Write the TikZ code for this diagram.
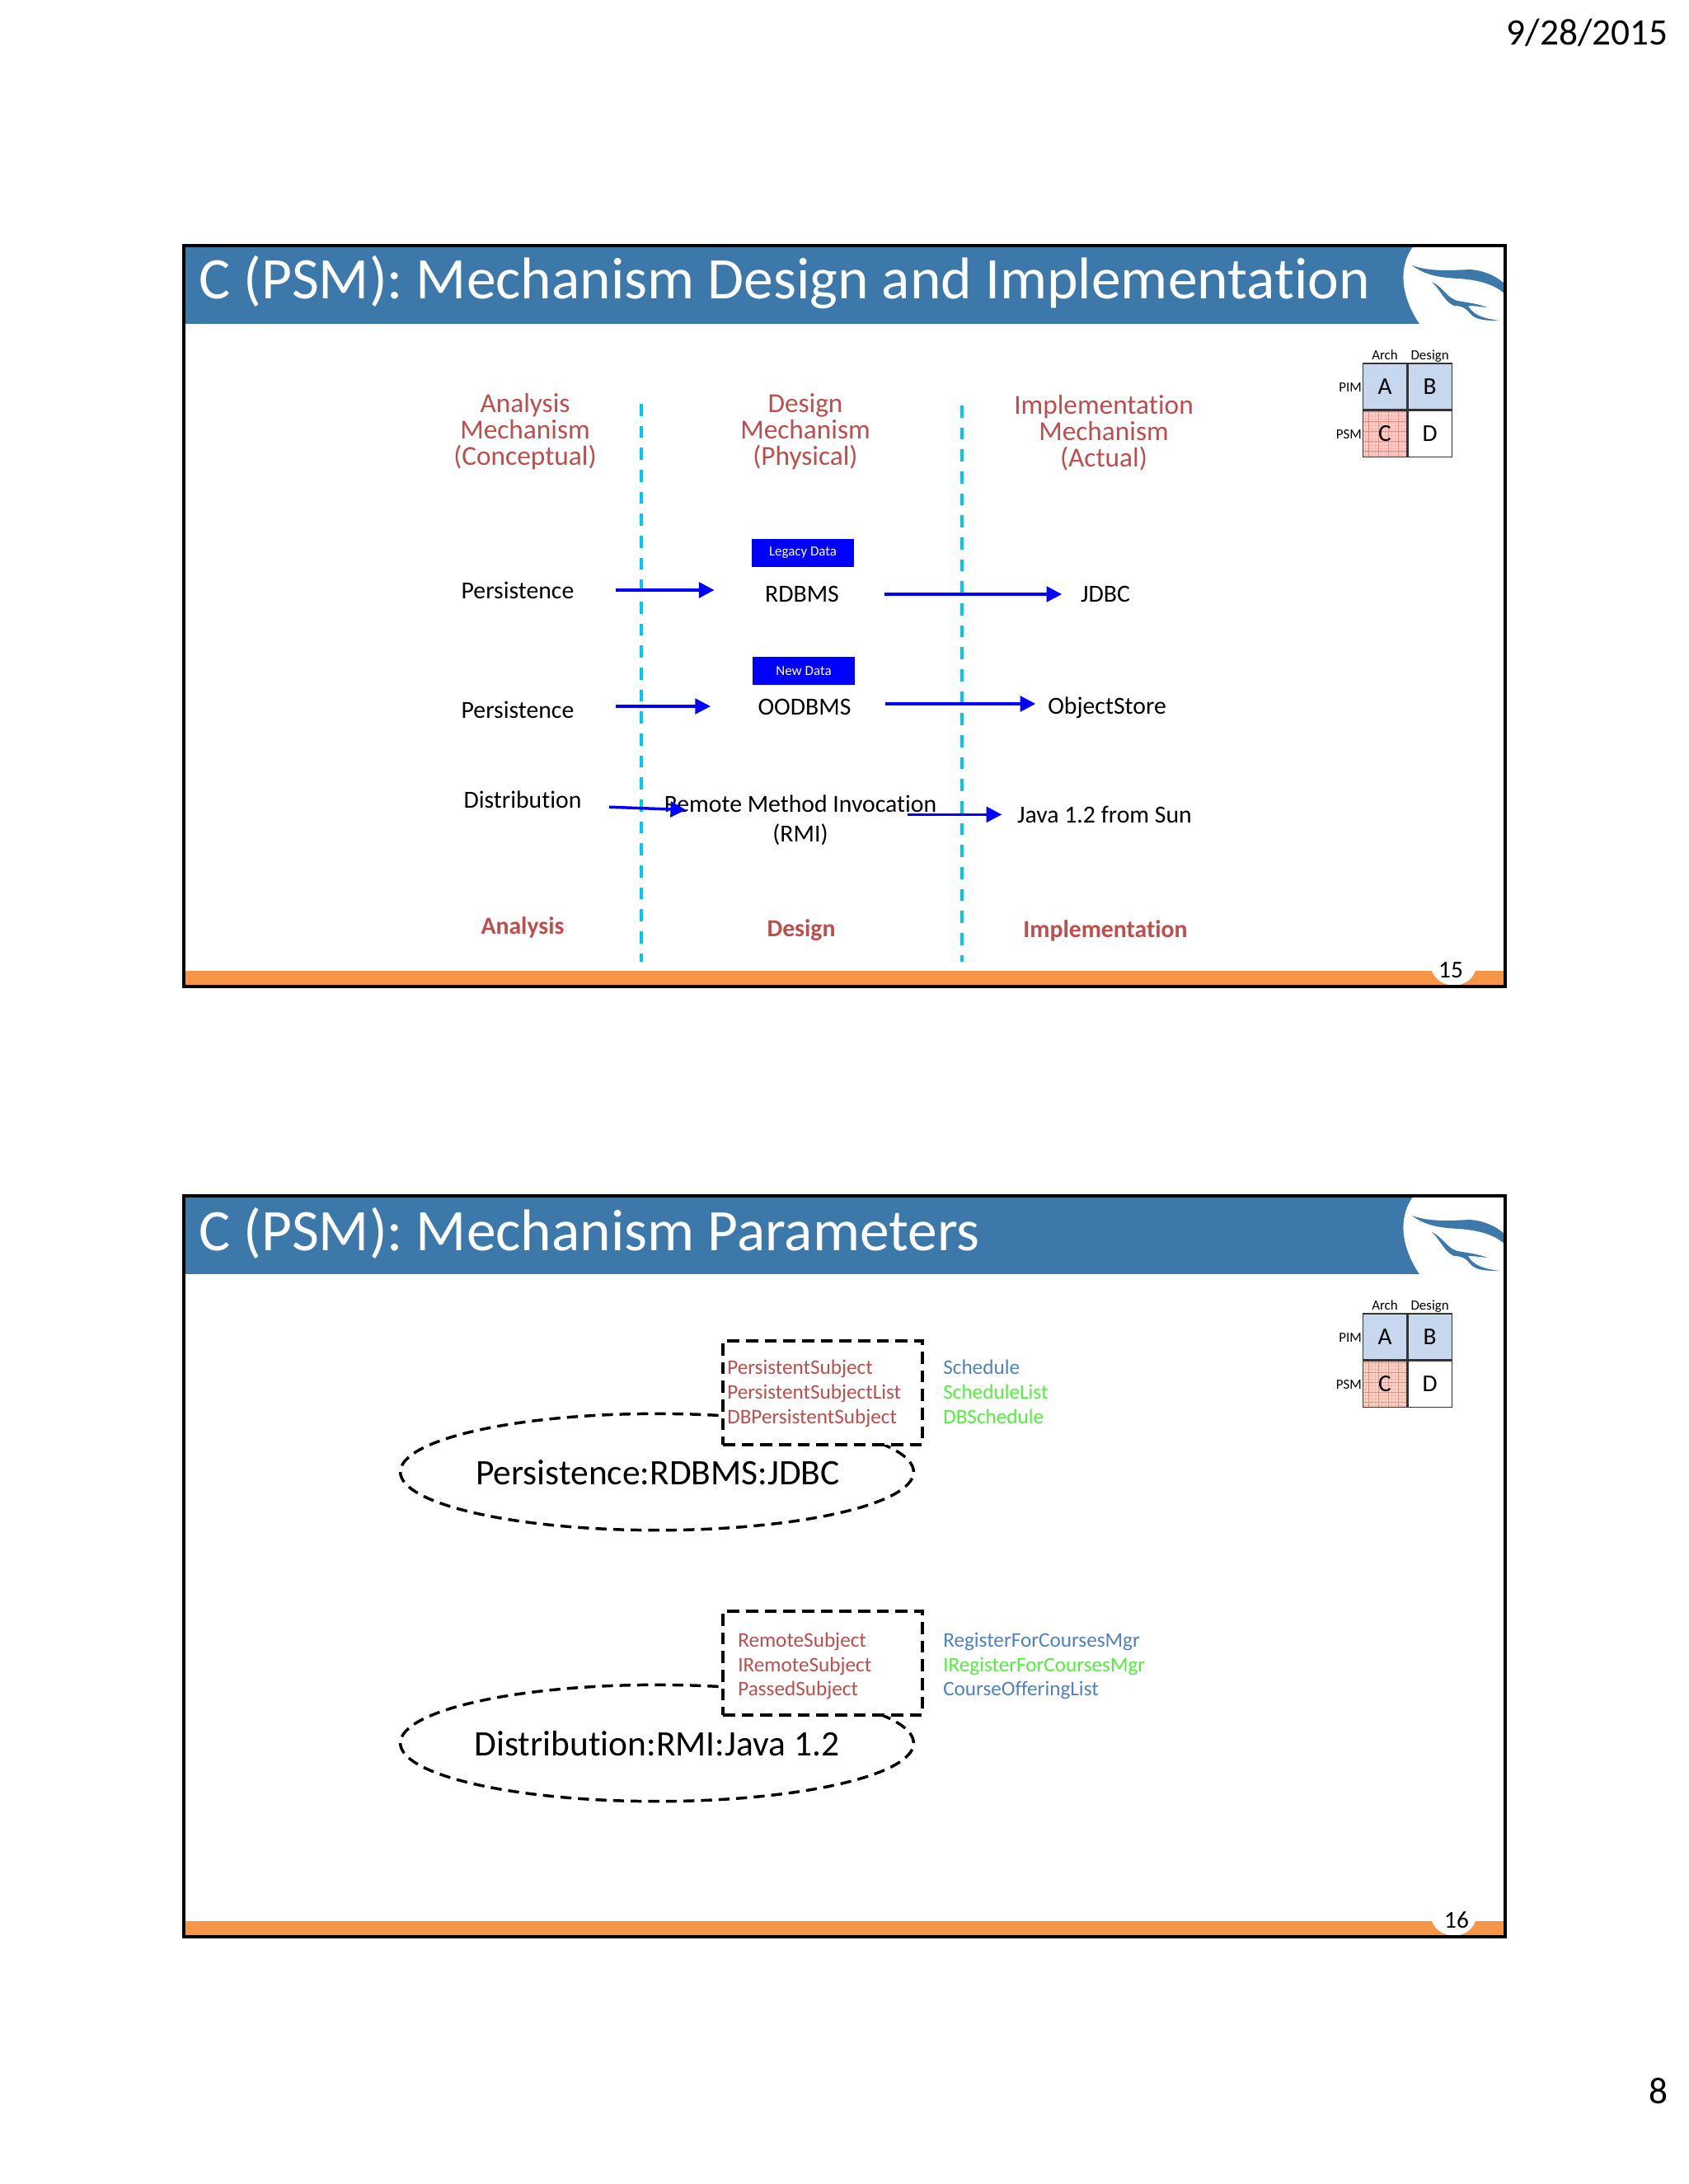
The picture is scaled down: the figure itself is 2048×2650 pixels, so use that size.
\documentclass[tikz,border=0pt]{standalone}
\usepackage{fontspec}
\setmainfont{Carlito}[Ligatures=NoCommon]
\usetikzlibrary{arrows.meta, positioning, shapes.geometric}
\definecolor{hdrblue}{RGB}{60, 120, 170}
\definecolor{barorange}{RGB}{247, 150, 70}
\definecolor{headred}{RGB}{190, 78, 76}
\definecolor{sepcyan}{RGB}{0, 200, 240}
\definecolor{tagblue}{RGB}{0, 0, 255}
\definecolor{cellblue}{RGB}{198, 215, 238}
\definecolor{cellred}{RGB}{252, 215, 200}
\definecolor{itemblue}{RGB}{79, 129, 189}
\definecolor{itemgreen}{RGB}{80, 240, 60}
\tikzset{
  sepline/.style={sepcyan, line width=2.6pt, dash pattern=on 11pt off 9pt},
  flow/.style={tagblue, line width=2.6pt, -{Triangle[length=14pt, width=14pt]}},
  plainlbl/.style={font=\fontsize{22.3}{27}\selectfont, align=center, inner sep=0pt},
  headlbl/.style={plainlbl, text=headred, font=\fontsize{25}{24}\selectfont},
  footlbl/.style={plainlbl, text=headred, font=\fontsize{22.3}{27}\selectfont\bfseries},
  tagbox/.style={fill=tagblue, text=white, font=\fontsize{12.7}{15}\selectfont, minimum width=93pt, minimum height=25pt, inner sep=0pt},
  itembox/.style={draw, fill=white, line width=3pt, dash pattern=on 11pt off 6pt, minimum width=181.5pt, minimum height=94pt},
  itemoval/.style={draw, ellipse, line width=2.6pt, dash pattern=on 10pt off 6pt, minimum width=467pt, minimum height=106pt},
  itemlbl/.style={font=\fontsize{18.9}{23}\selectfont, anchor=base west, inner sep=0pt},
  namelbl/.style={font=\fontsize{32.6}{39}\selectfont, inner sep=0pt},
  gridcell/.style={draw=black!80, line width=1pt, minimum width=40pt, minimum height=42pt, inner sep=0pt, font=\fontsize{22}{26}\selectfont},
  gridlbl/.style={font=\fontsize{12.7}{15}\selectfont, inner sep=0pt, text height=0.7em, text depth=0.2em},
  sidelbl/.style={gridlbl, yshift=-2pt}
}
\begin{document}
\begin{tikzpicture}[x=0.75pt, y=-0.75pt]
  \useasboundingbox (0,0) rectangle (2048,2650);

  \node[font=\fontsize{34}{41}\selectfont, anchor=east, inner sep=0pt] (pagedate) at (2024,40) {9/28/2015};
  \node[font=\fontsize{34}{41}\selectfont, anchor=east, inner sep=0pt] (pagenum) at (2024,2537) {8};

  % Common slide frame
  \foreach \sy/\slidetitle/\num/\numx in {0/C (PSM): Mechanism Design and Implementation/15/1760, 1153/C (PSM): Mechanism Parameters/16/1767} {
    \begin{scope}[shift={(0,\sy)}]
      \fill[hdrblue] (224,300) rectangle (1826,393);
      \fill[white] (1715,298) .. controls (1695,325) and (1700,360) .. (1722,393) -- (1826,393) -- (1826,298) -- cycle;
      % swoosh
      \fill[hdrblue] (1713,322) .. controls (1735,330) and (1760,328) .. (1783,327) .. controls (1800,328) and (1815,335) .. (1825,344) -- (1825,356) .. controls (1812,345) and (1795,340) .. (1770,338) .. controls (1750,337) and (1730,335) .. (1713,322) -- cycle;
      \fill[hdrblue] (1737,342) .. controls (1750,348) and (1756,362) .. (1768,365) .. controls (1780,367) and (1795,369) .. (1804,373) .. controls (1795,372) and (1788,371) .. (1781,371) .. controls (1786,380) and (1795,386) .. (1819,389) .. controls (1805,389) and (1790,389) .. (1783,380) .. controls (1778,373) and (1772,371) .. (1764,371) .. controls (1752,366) and (1748,352) .. (1737,342) -- cycle;
      \fill[barorange] (224,1178) rectangle (1826,1197);
      \fill[white] (1737,1178) .. controls (1745,1200) and (1780,1203) .. (1790,1178) -- cycle;
      \draw[line width=2.6pt] (223,298) rectangle (1826,1197);
      \node[font=\fontsize{53.6}{64}\selectfont, text=white, anchor=west, inner sep=0pt] (title\num) at (241,343) {\slidetitle};
      \node[font=\fontsize{22}{26}\selectfont, inner sep=0pt] (pgno\num) at (\numx,1177) {\num};

      % PIM PSM grid
      \node[gridcell, fill=cellblue] (cella\num) at (1680,469) {A};
      \node[gridcell, fill=cellblue, right=0pt of cella\num] (cellb\num) {B};
      \node[gridcell, fill=cellred, below=0pt of cella\num, path picture={
        \draw[red!30, line width=0.25pt] (path picture bounding box.south west) grid[step=3pt] (path picture bounding box.north east);
        \draw[red!50, line width=0.4pt] (path picture bounding box.south west) grid[step=9pt] (path picture bounding box.north east);
      }] (cellc\num) {C};
      \node[gridcell, right=0pt of cellc\num] (celld\num) {D};
      \node[gridlbl, above=1pt of cella\num] (arch\num) {Arch};
      \node[gridlbl, above=1pt of cellb\num] (dsgn\num) {Design};
      \node[sidelbl, left=0.5pt of cella\num] (pim\num) {PIM};
      \node[sidelbl, left=0.5pt of cellc\num] (psm\num) {PSM};
    \end{scope}
  }

  % Slide 15 - columns
  \node[headlbl] (hana) at (637,524) {Analysis\\Mechanism\\(Conceptual)};
  \node[headlbl] (hdes) at (977,524) {Design\\Mechanism\\(Physical)};
  \node[headlbl] (himp) at (1339,525) {Implementation\\Mechanism\\(Actual)};
  \draw[sepline] (778,490) -- (778,1167);
  \draw[sepline] (1167,492) -- (1167,1167);

  \node[tagbox] (legacy) at (974,671) {Legacy Data};
  \node[tagbox] (newdata) at (975,814) {New Data};

  \node[plainlbl] (pers1) at (628,716) {Persistence};
  \node[plainlbl] (rdbms) at (973,721) {RDBMS};
  \node[plainlbl] (jdbc) at (1341,721) {JDBC};
  \node[plainlbl] (pers2) at (628,861) {Persistence};
  \node[plainlbl] (oodbms) at (976,858) {OODBMS};
  \node[plainlbl] (ostore) at (1343,859) {ObjectStore};
  \node[plainlbl] (dist) at (634,970) {Distribution};
  \node[plainlbl] (rmi) at (971,995) {Remote Method Invocation\\(RMI)};
  \node[plainlbl] (java) at (1340,988) {Java 1.2 from Sun};

  \draw[flow, shorten <=38pt, shorten >=46pt] (pers1.east) -- (pers1.east -| rdbms.west);
  \draw[flow, shorten <=41pt, shorten >=17pt] (rdbms.east) -- (rdbms.east -| jdbc.west);
  \draw[flow, shorten <=38pt, shorten >=43pt] ([yshift=3pt]pers2.east) -- ([yshift=3pt]pers2.east -| oodbms.west);
  \draw[flow, shorten <=31pt, shorten >=11pt] ([yshift=3pt]oodbms.east) -- ([yshift=3pt]oodbms.east -| ostore.west);
  \draw[flow, shorten <=25pt, shorten >=-20pt] ([yshift=-6pt]dist.east) -- ([yshift=10pt]rmi.west);
  \draw[flow, shorten <=-27pt, shorten >=14pt] ([yshift=5pt]rmi.east) -- ([yshift=5pt]rmi.east -| java.west);

  \node[footlbl] (fana) at (634,1125) {Analysis};
  \node[footlbl] (fdes) at (972,1129) {Design};
  \node[footlbl] (fimp) at (1341,1129) {Implementation};

  % Slide 16 - parameters
  \node[itemoval] (oval1) at (797,1786) {};
  \node[itembox] (box1) at (998,1690) {};
  \node[namelbl] (name1) at (798,1787) {Persistence:RDBMS:JDBC};
  \foreach \idx/\y/\lbl/\parm/\parcol in {a/1667/PersistentSubject/Schedule/itemblue, b/1697/PersistentSubjectList/ScheduleList/itemgreen, c/1727/DBPersistentSubject/DBSchedule/itemgreen} {
    \node[itemlbl, text=headred] (sub\idx) at (882,\y) {\lbl};
    \node[itemlbl, text=\parcol] (par\idx) at (1144,\y) {\parm};
  }

  \node[itemoval] (oval2) at (797,2115) {};
  \node[itembox] (box2) at (998,2018) {};
  \node[namelbl] (name2) at (797,2116) {Distribution:RMI:Java 1.2};
  \foreach \idx/\y/\lbl/\parm/\parcol in {d/1998/RemoteSubject/RegisterForCoursesMgr/itemblue, e/2028/IRemoteSubject/IRegisterForCoursesMgr/itemgreen, f/2057/PassedSubject/CourseOfferingList/itemblue} {
    \node[itemlbl, text=headred] (sub\idx) at (895,\y) {\lbl};
    \node[itemlbl, text=\parcol] (par\idx) at (1144,\y) {\parm};
  }
\end{tikzpicture}
\end{document}
